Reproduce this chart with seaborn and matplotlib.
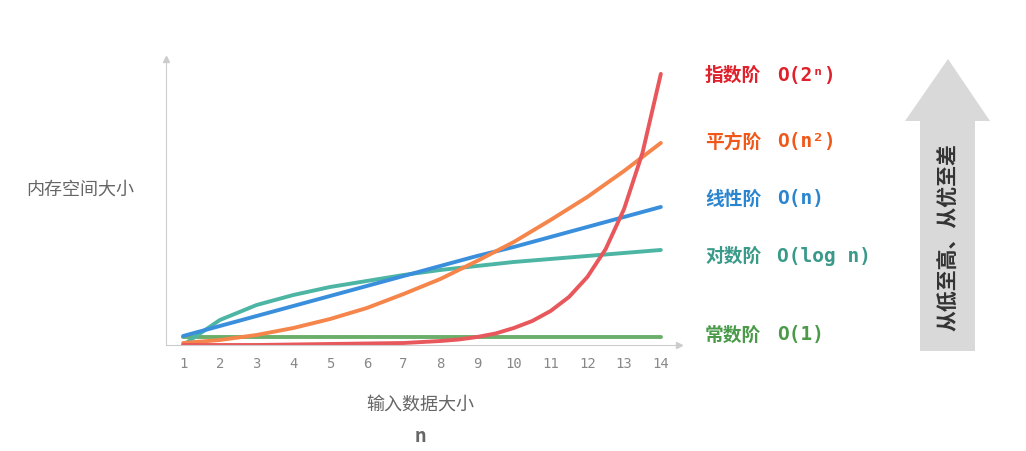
import numpy as np
import pandas as pd
import matplotlib
matplotlib.use('Agg')
import matplotlib.pyplot as plt
import seaborn as sns
from matplotlib.patches import Polygon

sns.set_style('white')
plt.rcParams['font.family'] = ['Noto Sans CJK SC', 'DejaVu Sans']

# 数据 (高度单位: 相对坐标轴)
n = list(range(1, 15))
const_vals = [8] * 14
linear_vals = [9, 19, 29, 39, 49, 59, 69, 79, 89, 98, 108, 118, 128, 138]
log_vals = [0, 25, 40, 50, 58, 64, 70, 75, 79, 83, 86, 89, 92, 95]
quad_vals = [2, 5, 10, 17, 26, 37, 51, 66, 84, 103, 125, 148, 174, 202]
exp_n = [1, 2, 3, 4, 5, 6, 7, 8, 8.5, 9, 9.5, 10, 10.5, 11, 11.5, 12, 12.5, 13, 13.5, 14]
exp_vals = [0, 0, 0, 0.5, 1, 1.5, 2, 4, 5.5, 8, 11.5, 17, 24, 34, 48, 68, 96, 136, 192, 271]

series = [
    ('常数阶', n, const_vals, '#6aae6a'),
    ('对数阶', n, log_vals, '#4cb5a3'),
    ('线性阶', n, linear_vals, '#3a8fdc'),
    ('平方阶', n, quad_vals, '#f5854a'),
    ('指数阶', exp_n, exp_vals, '#e8575b'),
]

labels = [
    ('指数阶', 'O(2ⁿ)', 75, '#e0202a'),
    ('平方阶', 'O(n²)', 142, '#f0581a'),
    ('线性阶', 'O(n)', 199, '#2a85d0'),
    ('对数阶', 'O(log n)', 256, '#3a9a8a'),
    ('常数阶', 'O(1)', 335, '#4a9a4a'),
]

fig = plt.figure(figsize=(10.26, 4.52), dpi=100)
ax = fig.add_axes([0.162, 0.2345, 0.5, 0.633])

for name, xs, ys, c in series:
    df = pd.DataFrame({'n': xs, 'v': ys})
    sns.lineplot(data=df, x='n', y='v', ax=ax, color=c, linewidth=2.8)

ax.set_xlim(0.54, 14.5)
ax.set_ylim(0, 286)
ax.set_xticks(n)
ax.set_xticklabels([str(i) for i in n], family='DejaVu Sans Mono', color='#888888', fontsize=10)
ax.set_yticks([])
ax.tick_params(axis='x', length=0, pad=8)
ax.set_xlabel('')
ax.set_ylabel('')
for s in ['top', 'right']:
    ax.spines[s].set_visible(False)
for s in ['left', 'bottom']:
    ax.spines[s].set_color('#cccccc')
ax.plot(1, 0, '>', color='#cccccc', transform=ax.transAxes, clip_on=False, markersize=5)
ax.plot(0, 1, '^', color='#cccccc', transform=ax.transAxes, clip_on=False, markersize=5)

fig.text(80 / 1026, 1 - 190 / 452, '内存空间大小', ha='center', va='center', fontsize=13, color='#666666')
fig.text(420 / 1026, 1 - 405 / 452, '输入数据大小', ha='center', va='center', fontsize=13, color='#666666')
fig.text(420 / 1026, 1 - 437 / 452, 'n', ha='center', va='center', fontsize=13, color='#666666', weight='bold')

for name, big_o, y, c in labels:
    fig.text(705 / 1026, 1 - y / 452, name, ha='left', va='center', fontsize=13.5, color=c, weight='bold')
    fig.text(777 / 1026, 1 - y / 452, big_o, ha='left', va='center', fontsize=14, color=c, weight='bold',
             family=['DejaVu Sans Mono', 'DejaVu Sans'])

pts = [(920, 352), (975, 352), (975, 122), (990, 122), (948, 60), (905, 122), (920, 122)]
poly = Polygon([(x / 1026, 1 - y / 452) for x, y in pts], closed=True,
               transform=fig.transFigure, facecolor='#d9d9d9', edgecolor='none')
fig.patches.append(poly)
fig.text(948 / 1026, 1 - 237 / 452, '从低至高、从优至差', rotation=90, ha='center', va='center',
         fontsize=15, color='#333333', weight='bold')

fig.savefig('out.png', dpi=100)
